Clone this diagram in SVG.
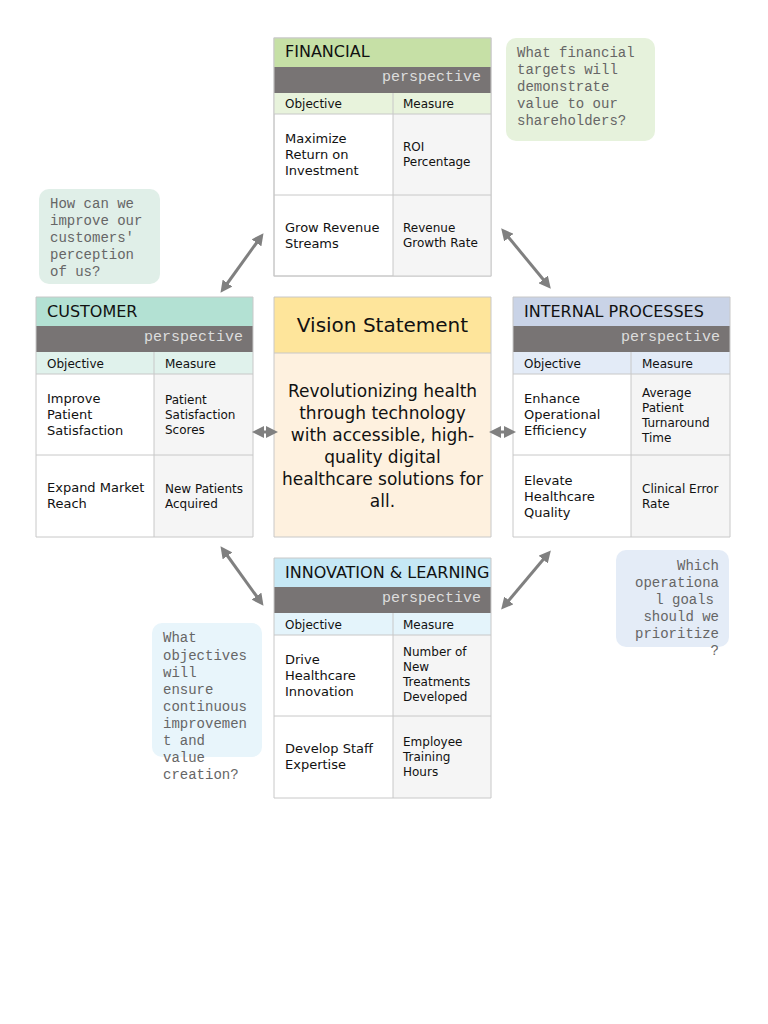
<svg xmlns="http://www.w3.org/2000/svg" width="768" height="1024" viewBox="0 0 768 1024">
<style>
.t{font-family:"DejaVu Sans",sans-serif;font-size:16px;fill:#111}
.p{font-family:"Liberation Mono",monospace;font-size:15px;fill:#ddd;text-anchor:end}
.h{font-family:"DejaVu Sans",sans-serif;font-size:12px;fill:#111}
.c{font-family:"DejaVu Sans",sans-serif;font-size:13px;fill:#111}
.m{font-family:"DejaVu Sans",sans-serif;font-size:12px;fill:#111}
.n{font-family:"Liberation Mono",monospace;font-size:14px;fill:#666}
.ln{stroke:#c8c8c8;stroke-width:1;fill:none}
.a{stroke:#808080;stroke-width:3;fill:none;marker-start:url(#ah);marker-end:url(#ah)}
</style>
<defs><marker id="ah" viewBox="0 0 10 10" refX="5" refY="5" markerWidth="4" markerHeight="4" orient="auto-start-reverse"><path d="M0,0L10,5L0,10z" fill="#808080"/></marker></defs>
<rect width="768" height="1024" fill="#fff"/>
<g id="financial">
<rect x="274" y="38" width="217" height="238" fill="#fff" class="ln"/>
<rect x="274" y="38" width="217" height="29" fill="#c6e0a6"/>
<rect x="274" y="67" width="217" height="26" fill="#787474"/>
<rect x="274" y="93" width="217" height="21" fill="#e8f3dc"/>
<rect x="393" y="114" width="98" height="162" fill="#f5f5f5"/>
<path class="ln" d="M274,38h217v238h-217z M274,114h217 M274,195h217 M393,93v183"/>
<text class="t" x="285" y="57">FINANCIAL</text>
<text class="p" x="481" y="81">perspective</text>
<text class="h" x="285" y="108">Objective</text><text class="h" x="403" y="108">Measure</text>
<text class="c" x="285" y="143">Maximize</text><text class="c" x="285" y="159">Return on</text><text class="c" x="285" y="175">Investment</text>
<text class="m" x="403" y="151">ROI</text><text class="m" x="403" y="166">Percentage</text>
<text class="c" x="285" y="232">Grow Revenue</text><text class="c" x="285" y="248">Streams</text>
<text class="m" x="403" y="232">Revenue</text><text class="m" x="403" y="247">Growth Rate</text>
</g>
<g id="customer">
<rect x="36" y="297" width="217" height="29" fill="#b3e1d3"/>
<rect x="36" y="326" width="217" height="26" fill="#787474"/>
<rect x="36" y="352" width="217" height="22" fill="#e0f2ec"/>
<rect x="154" y="374" width="99" height="163" fill="#f5f5f5"/>
<path class="ln" d="M36,297h217v240h-217z M36,374h217 M36,455h217 M154,352v185"/>
<text class="t" x="47" y="317">CUSTOMER</text>
<text class="p" x="243" y="341">perspective</text>
<text class="h" x="47" y="368">Objective</text><text class="h" x="165" y="368">Measure</text>
<text class="c" x="47" y="403">Improve</text><text class="c" x="47" y="419">Patient</text><text class="c" x="47" y="435">Satisfaction</text>
<text class="m" x="165" y="404">Patient</text><text class="m" x="165" y="419">Satisfaction</text><text class="m" x="165" y="434">Scores</text>
<text class="c" x="47" y="492">Expand Market</text><text class="c" x="47" y="508">Reach</text>
<text class="m" x="165" y="493">New Patients</text><text class="m" x="165" y="508">Acquired</text>
</g>
<g id="internal">
<rect x="513" y="297" width="217" height="29" fill="#c9d3e7"/>
<rect x="513" y="326" width="217" height="26" fill="#787474"/>
<rect x="513" y="352" width="217" height="22" fill="#e3ebf7"/>
<rect x="631" y="374" width="99" height="163" fill="#f5f5f5"/>
<path class="ln" d="M513,297h217v240h-217z M513,374h217 M513,455h217 M631,352v185"/>
<text class="t" x="524" y="317">INTERNAL PROCESSES</text>
<text class="p" x="720" y="341">perspective</text>
<text class="h" x="524" y="368">Objective</text><text class="h" x="642" y="368">Measure</text>
<text class="c" x="524" y="403">Enhance</text><text class="c" x="524" y="419">Operational</text><text class="c" x="524" y="435">Efficiency</text>
<text class="m" x="642" y="397">Average</text><text class="m" x="642" y="412">Patient</text><text class="m" x="642" y="427">Turnaround</text><text class="m" x="642" y="442">Time</text>
<text class="c" x="524" y="485">Elevate</text><text class="c" x="524" y="501">Healthcare</text><text class="c" x="524" y="517">Quality</text>
<text class="m" x="642" y="493">Clinical Error</text><text class="m" x="642" y="508">Rate</text>
</g>
<g id="vision">
<rect x="274" y="297" width="217" height="56" fill="#fee59b"/>
<rect x="274" y="353" width="217" height="184" fill="#fef1df"/>
<path class="ln" d="M274,297h217v240h-217z M274,353h217"/>
<text x="382.5" y="332" text-anchor="middle" style="font-family:'DejaVu Sans',sans-serif;font-size:20px;fill:#111">Vision Statement</text>
<g style="font-family:'DejaVu Sans',sans-serif;font-size:17px;fill:#111" text-anchor="middle">
<text x="382.5" y="397">Revolutionizing health</text>
<text x="382.5" y="419">through technology</text>
<text x="382.5" y="441">with accessible, high-</text>
<text x="382.5" y="463">quality digital</text>
<text x="382.5" y="485">healthcare solutions for</text>
<text x="382.5" y="507">all.</text>
</g>
</g>
<g id="innovation">
<rect x="274" y="558" width="217" height="29" fill="#c6e8f5"/>
<rect x="274" y="587" width="217" height="26" fill="#787474"/>
<rect x="274" y="613" width="217" height="22" fill="#e4f4fb"/>
<rect x="393" y="635" width="98" height="163" fill="#f5f5f5"/>
<path class="ln" d="M274,558h217v240h-217z M274,635h217 M274,716h217 M393,613v185"/>
<text class="t" x="285" y="578">INNOVATION &amp; LEARNING</text>
<text class="p" x="481" y="602">perspective</text>
<text class="h" x="285" y="629">Objective</text><text class="h" x="403" y="629">Measure</text>
<text class="c" x="285" y="664">Drive</text><text class="c" x="285" y="680">Healthcare</text><text class="c" x="285" y="696">Innovation</text>
<text class="m" x="403" y="656">Number of</text><text class="m" x="403" y="671">New</text><text class="m" x="403" y="686">Treatments</text><text class="m" x="403" y="701">Developed</text>
<text class="c" x="285" y="753">Develop Staff</text><text class="c" x="285" y="769">Expertise</text>
<text class="m" x="403" y="746">Employee</text><text class="m" x="403" y="761">Training</text><text class="m" x="403" y="776">Hours</text>
</g>
<g id="note-financial">
<rect x="506" y="38" width="149" height="103" rx="10" fill="#e6f2dc"/>
<text class="n" x="517" y="57">What financial</text><text class="n" x="517" y="74">targets will</text><text class="n" x="517" y="91">demonstrate</text><text class="n" x="517" y="108">value to our</text><text class="n" x="517" y="125">shareholders?</text>
</g>
<g id="note-customer">
<rect x="39" y="189" width="121" height="95" rx="10" fill="#e0efe8"/>
<text class="n" x="50" y="208">How can we</text><text class="n" x="50" y="225">improve our</text><text class="n" x="50" y="242">customers'</text><text class="n" x="50" y="259">perception</text><text class="n" x="50" y="276">of us?</text>
</g>
<g id="note-innovation">
<rect x="152" y="623" width="110" height="134" rx="10" fill="#e8f5fb"/>
<text class="n" x="163" y="642">What</text><text class="n" x="163" y="660">objectives</text><text class="n" x="163" y="677">will</text><text class="n" x="163" y="694">ensure</text><text class="n" x="163" y="711">continuous</text><text class="n" x="163" y="728">improvemen</text><text class="n" x="163" y="745">t and</text><text class="n" x="163" y="762">value</text><text class="n" x="163" y="779">creation?</text>
</g>
<g id="note-internal">
<rect x="616" y="550" width="113" height="97" rx="10" fill="#e4ecf7"/>
<g text-anchor="end"><text class="n" x="719" y="570">Which</text><text class="n" x="719" y="587">operationa</text><text class="n" x="714" y="604">l goals</text><text class="n" x="719" y="621">should we</text><text class="n" x="719" y="638">prioritize</text><text class="n" x="719" y="655">?</text></g>
</g>
<g id="connectors">
<line class="a" x1="260" y1="238" x2="224" y2="288"/>
<line class="a" x1="505" y1="233" x2="547" y2="284"/>
<line class="a" x1="272" y1="432" x2="258" y2="432"/>
<line class="a" x1="495" y1="432" x2="510" y2="432"/>
<line class="a" x1="224" y1="551" x2="260" y2="601"/>
<line class="a" x1="547" y1="555" x2="505" y2="605"/>
</g>
</svg>
